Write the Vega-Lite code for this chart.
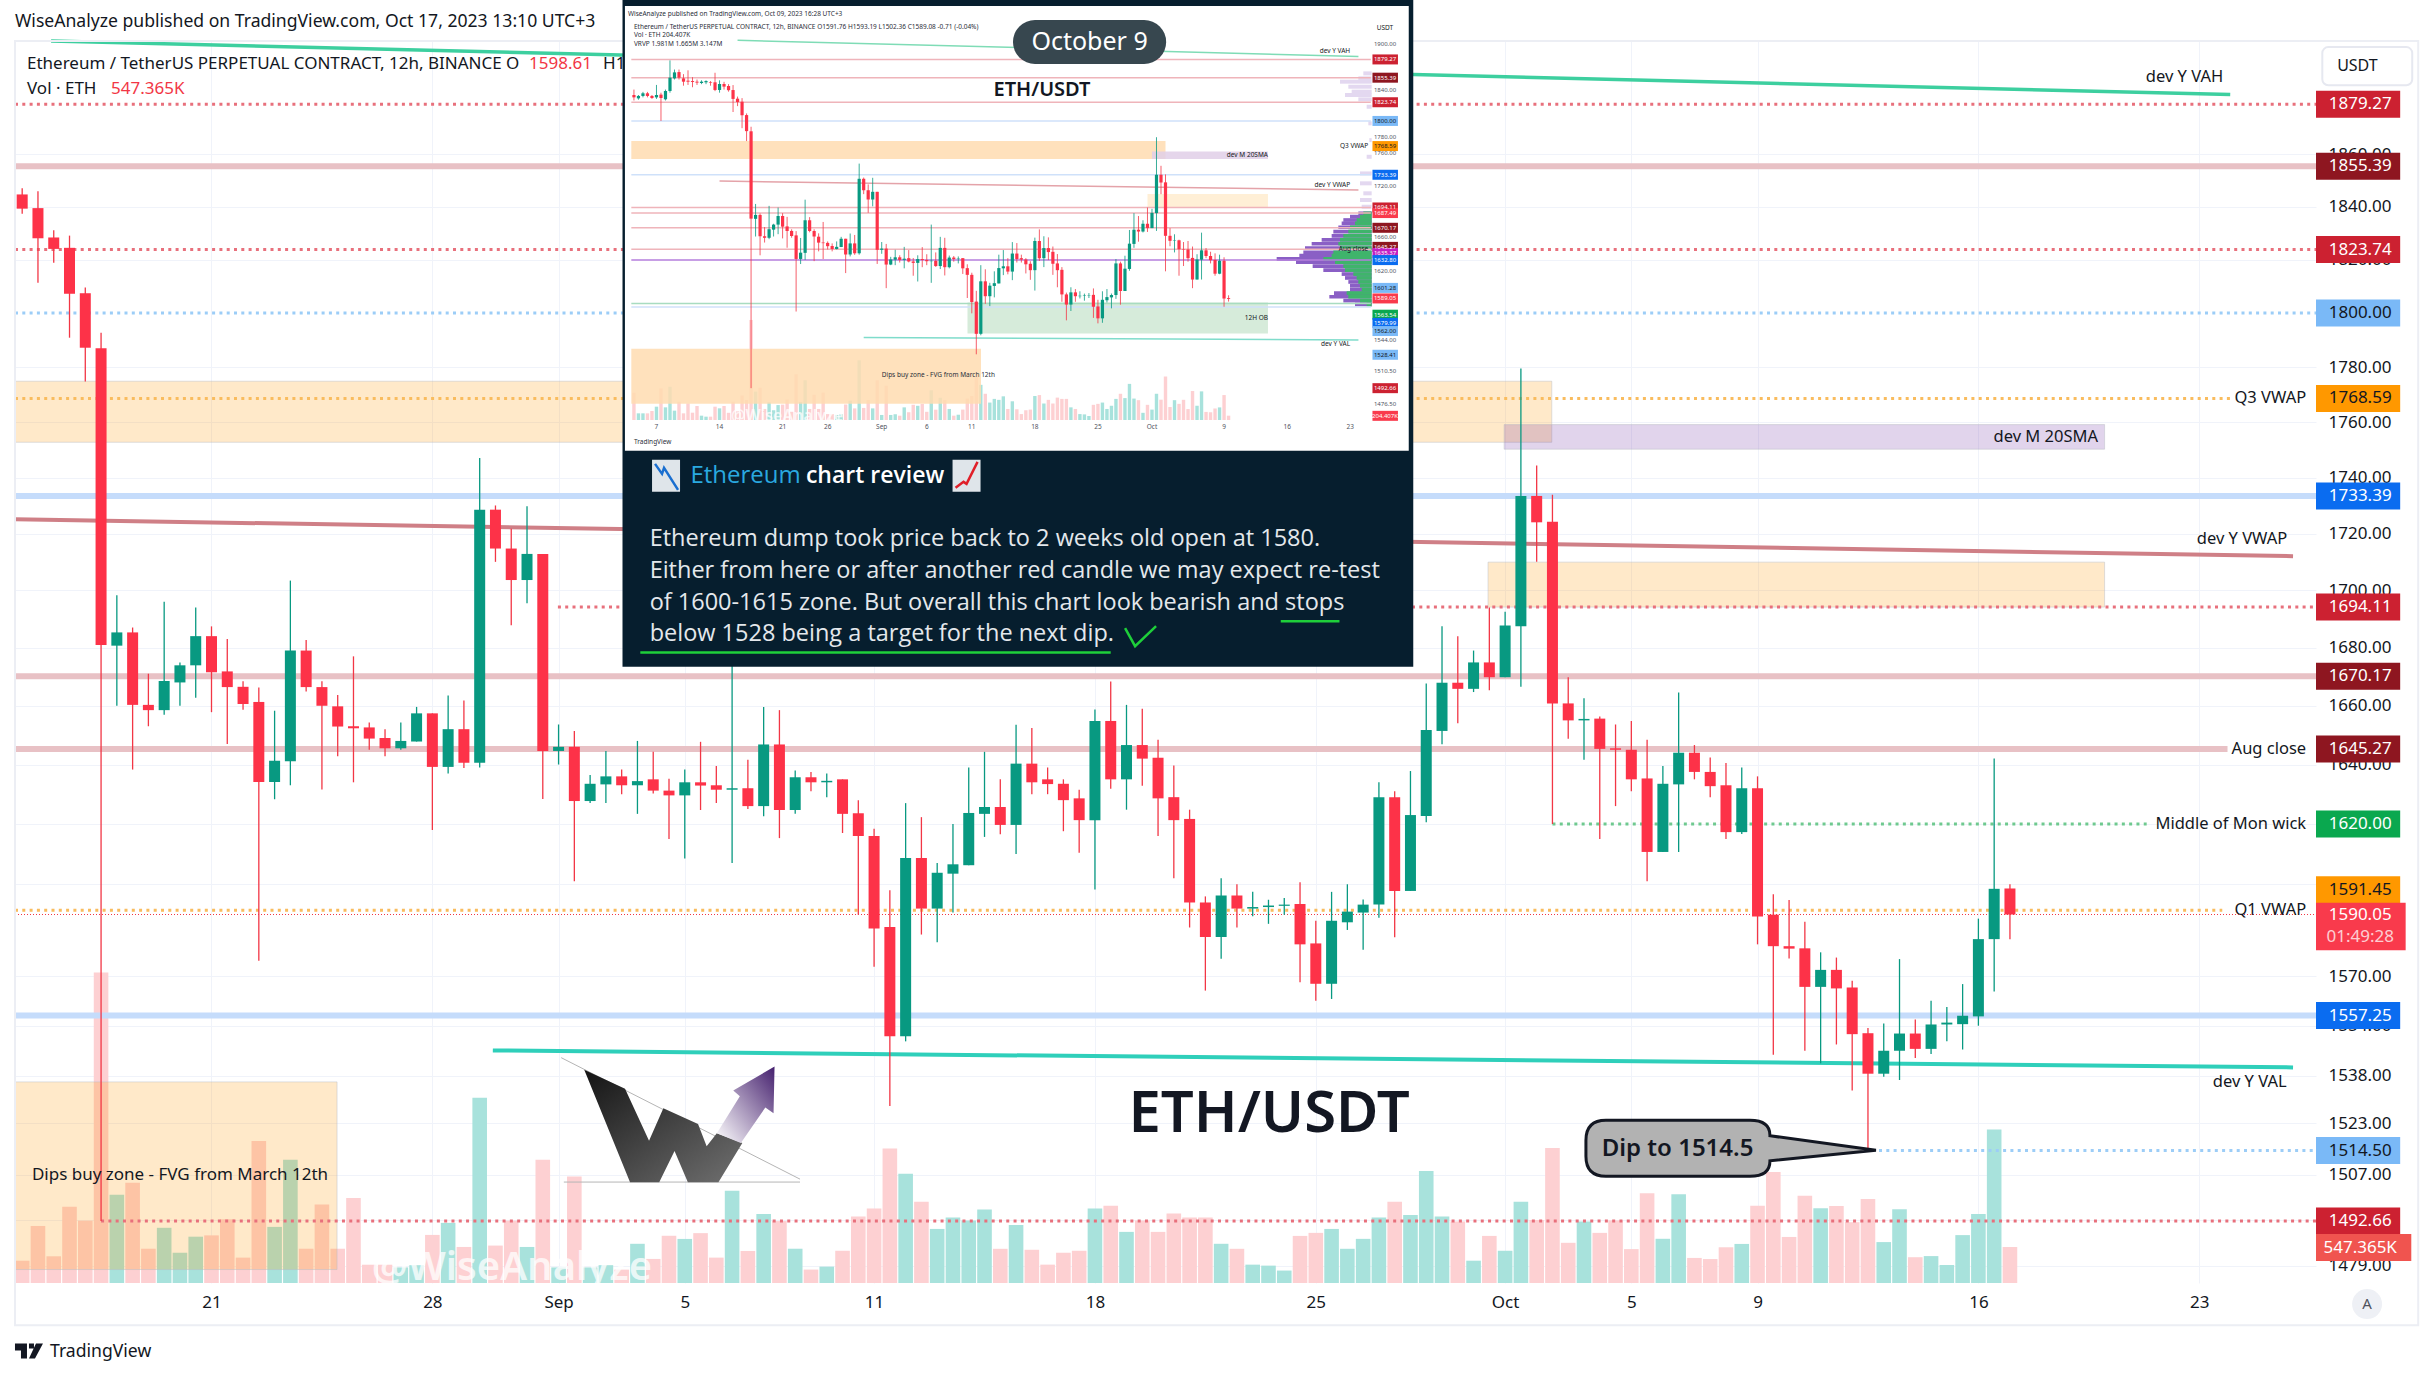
{
"$schema":"https://vega.github.io/schema/vega-lite/v6.json",
"width":2301,"height":1242,"autosize":"none","background":"#ffffff",
"padding":{"left":15,"top":41,"right":117,"bottom":95},
"config":{"view":{"stroke":null},"font":"Noto Sans","text":{"font":"Noto Sans"}},
"resolve":{"scale":{"x":"independent","y":"independent","color":"independent"}},
"datasets":{
"tags":[
{"s":"1879.27","at":1879.27,"k":"r","t":"2023-10-26T16:48Z","t2":"2023-10-29T08:50Z","tc":"2023-10-28T02:24Z"},
{"s":"1855.39","at":1855.39,"k":"dr","t":"2023-10-26T16:48Z","t2":"2023-10-29T08:50Z","tc":"2023-10-28T02:24Z"},
{"s":"1823.74","at":1823.74,"k":"r","t":"2023-10-26T16:48Z","t2":"2023-10-29T08:50Z","tc":"2023-10-28T02:24Z"},
{"s":"1800.00","at":1800,"k":"lb","t":"2023-10-26T16:48Z","t2":"2023-10-29T08:50Z","tc":"2023-10-28T02:24Z"},
{"s":"1768.59","at":1768.59,"k":"o","t":"2023-10-26T16:48Z","t2":"2023-10-29T08:50Z","tc":"2023-10-28T02:24Z"},
{"s":"1733.39","at":1733.39,"k":"b","t":"2023-10-26T16:48Z","t2":"2023-10-29T08:50Z","tc":"2023-10-28T02:24Z"},
{"s":"1694.11","at":1694.11,"k":"r","t":"2023-10-26T16:48Z","t2":"2023-10-29T08:50Z","tc":"2023-10-28T02:24Z"},
{"s":"1670.17","at":1670.17,"k":"dr","t":"2023-10-26T16:48Z","t2":"2023-10-29T08:50Z","tc":"2023-10-28T02:24Z"},
{"s":"1645.27","at":1645.27,"k":"dr","t":"2023-10-26T16:48Z","t2":"2023-10-29T08:50Z","tc":"2023-10-28T02:24Z"},
{"s":"1620.00","at":1620,"k":"g","t":"2023-10-26T16:48Z","t2":"2023-10-29T08:50Z","tc":"2023-10-28T02:24Z"},
{"s":"1591.45","at":1598.2,"k":"o","t":"2023-10-26T16:48Z","t2":"2023-10-29T08:50Z","tc":"2023-10-28T02:24Z"},
{"s":"1557.25","at":1557.25,"k":"b","t":"2023-10-26T16:48Z","t2":"2023-10-29T08:50Z","tc":"2023-10-28T02:24Z"},
{"s":"1514.50","at":1514.5,"k":"lb","t":"2023-10-26T16:48Z","t2":"2023-10-29T08:50Z","tc":"2023-10-28T02:24Z"},
{"s":"1492.66","at":1492.66,"k":"r","t":"2023-10-26T16:48Z","t2":"2023-10-29T08:50Z","tc":"2023-10-28T02:24Z"}
],
"miniTags":[
{"s":"1879.27","at":1879.27,"k":"r","t":"2023-10-25T11:20Z","t2":"2023-10-28T07:15Z","tc":"2023-10-26T20:40Z"},
{"s":"1855.39","at":1855.39,"k":"dr","t":"2023-10-25T11:20Z","t2":"2023-10-28T07:15Z","tc":"2023-10-26T20:40Z"},
{"s":"1823.74","at":1823.74,"k":"r","t":"2023-10-25T11:20Z","t2":"2023-10-28T07:15Z","tc":"2023-10-26T20:40Z"},
{"s":"1800.00","at":1800,"k":"lb","t":"2023-10-25T11:20Z","t2":"2023-10-28T07:15Z","tc":"2023-10-26T20:40Z"},
{"s":"1768.59","at":1768.59,"k":"o","t":"2023-10-25T11:20Z","t2":"2023-10-28T07:15Z","tc":"2023-10-26T20:40Z"},
{"s":"1733.39","at":1733.39,"k":"b","t":"2023-10-25T11:20Z","t2":"2023-10-28T07:15Z","tc":"2023-10-26T20:40Z"},
{"s":"1694.11","at":1694.11,"k":"r","t":"2023-10-25T11:20Z","t2":"2023-10-28T07:15Z","tc":"2023-10-26T20:40Z"},
{"s":"1687.49","at":1687.5,"k":"r2","t":"2023-10-25T11:20Z","t2":"2023-10-28T07:15Z","tc":"2023-10-26T20:40Z"},
{"s":"1670.17","at":1670.17,"k":"dr","t":"2023-10-25T11:20Z","t2":"2023-10-28T07:15Z","tc":"2023-10-26T20:40Z"},
{"s":"1645.27","at":1648,"k":"dr","t":"2023-10-25T11:20Z","t2":"2023-10-28T07:15Z","tc":"2023-10-26T20:40Z"},
{"s":"1635.37","at":1641,"k":"m","t":"2023-10-25T11:20Z","t2":"2023-10-28T07:15Z","tc":"2023-10-26T20:40Z"},
{"s":"1632.80","at":1632.8,"k":"b","t":"2023-10-25T11:20Z","t2":"2023-10-28T07:15Z","tc":"2023-10-26T20:40Z"},
{"s":"1601.28","at":1601.28,"k":"lb","t":"2023-10-25T11:20Z","t2":"2023-10-28T07:15Z","tc":"2023-10-26T20:40Z"},
{"s":"1589.05","at":1589.5,"k":"r2","t":"2023-10-25T11:20Z","t2":"2023-10-28T07:15Z","tc":"2023-10-26T20:40Z"},
{"s":"1563.54","at":1571.5,"k":"g","t":"2023-10-25T11:20Z","t2":"2023-10-28T07:15Z","tc":"2023-10-26T20:40Z"},
{"s":"1579.99","at":1562.5,"k":"b","t":"2023-10-25T11:20Z","t2":"2023-10-28T07:15Z","tc":"2023-10-26T20:40Z"},
{"s":"1562.00","at":1553.6,"k":"lb","t":"2023-10-25T11:20Z","t2":"2023-10-28T07:15Z","tc":"2023-10-26T20:40Z"},
{"s":"1528.41","at":1528,"k":"lb","t":"2023-10-25T11:20Z","t2":"2023-10-28T07:15Z","tc":"2023-10-26T20:40Z"},
{"s":"1492.66","at":1492.66,"k":"r","t":"2023-10-25T11:20Z","t2":"2023-10-28T07:15Z","tc":"2023-10-26T20:40Z"},
{"s":"204.407K","at":1464,"k":"r2","t":"2023-10-25T11:20Z","t2":"2023-10-28T07:15Z","tc":"2023-10-26T20:40Z"}
],
"candles":[
{"t":"2023-08-15T00:00Z","o":1844.6,"h":1847,"l":1837.3,"c":1839.2,"v":339},
{"t":"2023-08-15T12:00Z","o":1839.4,"h":1845.8,"l":1811.3,"c":1828,"v":867},
{"t":"2023-08-16T00:00Z","o":1828.3,"h":1831,"l":1818.8,"c":1824,"v":406},
{"t":"2023-08-16T12:00Z","o":1824.4,"h":1829,"l":1790.9,"c":1807.2,"v":1158},
{"t":"2023-08-17T00:00Z","o":1807.4,"h":1809.5,"l":1774.8,"c":1787.2,"v":948},
{"t":"2023-08-17T12:00Z","o":1787,"h":1792.7,"l":1492.66,"c":1680.9,"v":4719},
{"t":"2023-08-18T00:00Z","o":1680.7,"h":1698.3,"l":1660,"c":1685.3,"v":1340},
{"t":"2023-08-18T12:00Z","o":1685.3,"h":1687,"l":1638.3,"c":1660.3,"v":1523},
{"t":"2023-08-19T00:00Z","o":1660.3,"h":1671,"l":1653,"c":1658.5,"v":521},
{"t":"2023-08-19T12:00Z","o":1658.5,"h":1696,"l":1656.9,"c":1668.5,"v":839},
{"t":"2023-08-20T00:00Z","o":1668,"h":1674.9,"l":1660,"c":1673.9,"v":460},
{"t":"2023-08-20T12:00Z","o":1673.9,"h":1694,"l":1662.7,"c":1684,"v":704},
{"t":"2023-08-21T00:00Z","o":1684,"h":1687.4,"l":1657.8,"c":1671.5,"v":724},
{"t":"2023-08-21T12:00Z","o":1671.8,"h":1683,"l":1647,"c":1666.4,"v":968},
{"t":"2023-08-22T00:00Z","o":1666.5,"h":1668.4,"l":1658.6,"c":1660.6,"v":386},
{"t":"2023-08-22T12:00Z","o":1661.3,"h":1666.3,"l":1575,"c":1634.1,"v":2160},
{"t":"2023-08-23T00:00Z","o":1634.1,"h":1658.3,"l":1628.3,"c":1641.3,"v":853},
{"t":"2023-08-23T12:00Z","o":1641.1,"h":1703.4,"l":1633,"c":1679,"v":1875},
{"t":"2023-08-24T00:00Z","o":1679,"h":1682.7,"l":1664.9,"c":1666.4,"v":521},
{"t":"2023-08-24T12:00Z","o":1666.4,"h":1668.4,"l":1631.6,"c":1660,"v":1192},
{"t":"2023-08-25T00:00Z","o":1659.8,"h":1663.7,"l":1642.8,"c":1652.9,"v":521},
{"t":"2023-08-25T12:00Z","o":1653,"h":1677,"l":1634,"c":1652.3,"v":1293},
{"t":"2023-08-26T00:00Z","o":1652.6,"h":1654.3,"l":1645,"c":1648.8,"v":278},
{"t":"2023-08-26T12:00Z","o":1649,"h":1652,"l":1642.8,"c":1645.5,"v":278},
{"t":"2023-08-27T00:00Z","o":1645.5,"h":1654.3,"l":1645,"c":1648,"v":237},
{"t":"2023-08-27T12:00Z","o":1647.8,"h":1659.6,"l":1647.8,"c":1657.4,"v":271},
{"t":"2023-08-28T00:00Z","o":1657.4,"h":1657.4,"l":1618,"c":1639.2,"v":731},
{"t":"2023-08-28T12:00Z","o":1639.2,"h":1663.5,"l":1637,"c":1652,"v":914},
{"t":"2023-08-29T00:00Z","o":1652,"h":1661.8,"l":1638.8,"c":1640.6,"v":548},
{"t":"2023-08-29T12:00Z","o":1640.6,"h":1747,"l":1639,"c":1728.5,"v":2816},
{"t":"2023-08-30T00:00Z","o":1728.5,"h":1730,"l":1710,"c":1714.7,"v":569},
{"t":"2023-08-30T12:00Z","o":1714.7,"h":1721.7,"l":1687.8,"c":1703.6,"v":948},
{"t":"2023-08-31T00:00Z","o":1703.6,"h":1729.7,"l":1695.5,"c":1712.8,"v":548},
{"t":"2023-08-31T12:00Z","o":1712.8,"h":1712.8,"l":1628.4,"c":1644.6,"v":1875},
{"t":"2023-09-01T00:00Z","o":1644.6,"h":1653.6,"l":1640,"c":1646,"v":237},
{"t":"2023-09-01T12:00Z","o":1646,"h":1651.4,"l":1601,"c":1627.7,"v":1618},
{"t":"2023-09-02T00:00Z","o":1627.7,"h":1636.5,"l":1627,"c":1633.5,"v":237},
{"t":"2023-09-02T12:00Z","o":1633.3,"h":1644.6,"l":1627,"c":1636,"v":271},
{"t":"2023-09-03T00:00Z","o":1636,"h":1638.3,"l":1630,"c":1633,"v":203},
{"t":"2023-09-03T12:00Z","o":1633,"h":1648,"l":1623.4,"c":1634.4,"v":596},
{"t":"2023-09-04T00:00Z","o":1635,"h":1644.3,"l":1630.2,"c":1631.2,"v":366},
{"t":"2023-09-04T12:00Z","o":1631.2,"h":1635.2,"l":1615,"c":1629.6,"v":718},
{"t":"2023-09-05T00:00Z","o":1629.6,"h":1638.3,"l":1608.5,"c":1634,"v":670},
{"t":"2023-09-05T12:00Z","o":1634,"h":1647.7,"l":1624.7,"c":1632.9,"v":758},
{"t":"2023-09-06T00:00Z","o":1633,"h":1639.5,"l":1627,"c":1631.5,"v":386},
{"t":"2023-09-06T12:00Z","o":1631.5,"h":1673.9,"l":1607,"c":1632,"v":1401},
{"t":"2023-09-07T00:00Z","o":1632,"h":1641.6,"l":1625,"c":1626,"v":487},
{"t":"2023-09-07T12:00Z","o":1626,"h":1659.6,"l":1622.6,"c":1646.8,"v":1049},
{"t":"2023-09-08T00:00Z","o":1646.8,"h":1658.5,"l":1615.3,"c":1624.7,"v":941},
{"t":"2023-09-08T12:00Z","o":1624.7,"h":1638,"l":1623.4,"c":1635.7,"v":521},
{"t":"2023-09-09T00:00Z","o":1635.7,"h":1637.5,"l":1631,"c":1634,"v":204},
{"t":"2023-09-09T12:00Z","o":1634,"h":1637,"l":1629,"c":1634.5,"v":249},
{"t":"2023-09-10T00:00Z","o":1635,"h":1635,"l":1617,"c":1623.4,"v":490},
{"t":"2023-09-10T12:00Z","o":1623.6,"h":1628,"l":1590,"c":1616,"v":1010},
{"t":"2023-09-11T00:00Z","o":1616,"h":1618.4,"l":1573,"c":1585.5,"v":1131},
{"t":"2023-09-11T12:00Z","o":1586,"h":1598,"l":1528.5,"c":1550.6,"v":2043},
{"t":"2023-09-12T00:00Z","o":1550.6,"h":1627,"l":1549,"c":1608.7,"v":1659},
{"t":"2023-09-12T12:00Z","o":1608.7,"h":1622.3,"l":1583.5,"c":1592,"v":1237},
{"t":"2023-09-13T00:00Z","o":1592,"h":1607,"l":1581,"c":1603.8,"v":822},
{"t":"2023-09-13T12:00Z","o":1603.5,"h":1620,"l":1590.7,"c":1606.6,"v":995},
{"t":"2023-09-14T00:00Z","o":1606.3,"h":1639,"l":1606.3,"c":1623.7,"v":950},
{"t":"2023-09-14T12:00Z","o":1623.4,"h":1644.3,"l":1615.7,"c":1625.7,"v":1116},
{"t":"2023-09-15T00:00Z","o":1625.7,"h":1635,"l":1616.6,"c":1619.7,"v":520},
{"t":"2023-09-15T12:00Z","o":1619.7,"h":1653.5,"l":1610,"c":1640.3,"v":882},
{"t":"2023-09-16T00:00Z","o":1640.3,"h":1652.4,"l":1630,"c":1634,"v":505},
{"t":"2023-09-16T12:00Z","o":1635,"h":1639,"l":1630,"c":1633.4,"v":279},
{"t":"2023-09-17T00:00Z","o":1633.5,"h":1635,"l":1617.6,"c":1628,"v":460},
{"t":"2023-09-17T12:00Z","o":1628.6,"h":1631.5,"l":1610.4,"c":1621.3,"v":490},
{"t":"2023-09-18T00:00Z","o":1621.3,"h":1658.7,"l":1598.3,"c":1654.8,"v":1131},
{"t":"2023-09-18T12:00Z","o":1654.8,"h":1668.3,"l":1631.8,"c":1635,"v":1176},
{"t":"2023-09-19T00:00Z","o":1635,"h":1660.3,"l":1624.8,"c":1646.6,"v":777},
{"t":"2023-09-19T12:00Z","o":1646.6,"h":1659,"l":1632.8,"c":1642,"v":950},
{"t":"2023-09-20T00:00Z","o":1642.3,"h":1648.4,"l":1616,"c":1628.6,"v":777},
{"t":"2023-09-20T12:00Z","o":1629,"h":1639.7,"l":1602,"c":1621.3,"v":1056},
{"t":"2023-09-21T00:00Z","o":1621.7,"h":1624.8,"l":1585.8,"c":1594,"v":995},
{"t":"2023-09-21T12:00Z","o":1594,"h":1596,"l":1565.3,"c":1582.7,"v":995},
{"t":"2023-09-22T00:00Z","o":1582.7,"h":1602,"l":1575.6,"c":1596.3,"v":596},
{"t":"2023-09-22T12:00Z","o":1596.3,"h":1600,"l":1585.8,"c":1592,"v":520},
{"t":"2023-09-23T00:00Z","o":1592,"h":1597.5,"l":1589.5,"c":1592.5,"v":279},
{"t":"2023-09-23T12:00Z","o":1592.5,"h":1594.9,"l":1587,"c":1593,"v":264},
{"t":"2023-09-24T00:00Z","o":1592.9,"h":1595.5,"l":1590,"c":1593.3,"v":189},
{"t":"2023-09-24T12:00Z","o":1593.5,"h":1600.7,"l":1568,"c":1580.3,"v":716},
{"t":"2023-09-25T00:00Z","o":1580.6,"h":1588,"l":1562,"c":1567.5,"v":762},
{"t":"2023-09-25T12:00Z","o":1567.5,"h":1597.5,"l":1562.6,"c":1588,"v":822},
{"t":"2023-09-26T00:00Z","o":1587.5,"h":1600,"l":1585,"c":1591,"v":520},
{"t":"2023-09-26T12:00Z","o":1590.7,"h":1595,"l":1578.5,"c":1593.3,"v":671},
{"t":"2023-09-27T00:00Z","o":1593.3,"h":1634,"l":1589,"c":1629,"v":995},
{"t":"2023-09-27T12:00Z","o":1629,"h":1631,"l":1582.6,"c":1597.8,"v":1237},
{"t":"2023-09-28T00:00Z","o":1597.8,"h":1637.8,"l":1597.8,"c":1623,"v":1033},
{"t":"2023-09-28T12:00Z","o":1622.7,"h":1667.6,"l":1620.6,"c":1651.7,"v":1704},
{"t":"2023-09-29T00:00Z","o":1651.4,"h":1687.4,"l":1646.9,"c":1667.9,"v":1010},
{"t":"2023-09-29T12:00Z","o":1667.9,"h":1684,"l":1654,"c":1665.8,"v":935},
{"t":"2023-09-30T00:00Z","o":1665.8,"h":1679,"l":1664.7,"c":1674.9,"v":339},
{"t":"2023-09-30T12:00Z","o":1674.9,"h":1694,"l":1665.3,"c":1669.8,"v":716},
{"t":"2023-10-01T00:00Z","o":1669.8,"h":1692.5,"l":1669.8,"c":1687.7,"v":490},
{"t":"2023-10-01T12:00Z","o":1687.4,"h":1779.6,"l":1666.5,"c":1733.4,"v":1237},
{"t":"2023-10-02T00:00Z","o":1733.4,"h":1744.3,"l":1710,"c":1724,"v":958},
{"t":"2023-10-02T12:00Z","o":1724.2,"h":1733.8,"l":1620,"c":1660.8,"v":2051},
{"t":"2023-10-03T00:00Z","o":1660.8,"h":1669.8,"l":1648.7,"c":1655,"v":611},
{"t":"2023-10-03T12:00Z","o":1655,"h":1662.6,"l":1641.6,"c":1655.5,"v":935},
{"t":"2023-10-04T00:00Z","o":1655.6,"h":1656.3,"l":1615,"c":1645.3,"v":762},
{"t":"2023-10-04T12:00Z","o":1645.5,"h":1653.6,"l":1626,"c":1645,"v":952},
{"t":"2023-10-05T00:00Z","o":1645,"h":1654.8,"l":1631,"c":1635,"v":515},
{"t":"2023-10-05T12:00Z","o":1635.3,"h":1648.4,"l":1601,"c":1610.7,"v":1366},
{"t":"2023-10-06T00:00Z","o":1610.7,"h":1639.5,"l":1610.7,"c":1633.5,"v":672},
{"t":"2023-10-06T12:00Z","o":1633.3,"h":1664.5,"l":1610.7,"c":1644,"v":1350},
{"t":"2023-10-07T00:00Z","o":1644,"h":1646.6,"l":1635,"c":1637.5,"v":381},
{"t":"2023-10-07T12:00Z","o":1637.5,"h":1642.4,"l":1629,"c":1632.7,"v":364},
{"t":"2023-10-08T00:00Z","o":1633,"h":1640.5,"l":1615,"c":1617.3,"v":543},
{"t":"2023-10-08T12:00Z","o":1617.3,"h":1639,"l":1616.7,"c":1632,"v":594},
{"t":"2023-10-09T00:00Z","o":1632,"h":1636,"l":1580.3,"c":1589.4,"v":1176},
{"t":"2023-10-09T12:00Z","o":1590,"h":1596.7,"l":1544.7,"c":1579.7,"v":1686},
{"t":"2023-10-10T00:00Z","o":1579.7,"h":1594.8,"l":1575.7,"c":1578.9,"v":700},
{"t":"2023-10-10T12:00Z","o":1579,"h":1587.7,"l":1546,"c":1566.5,"v":1327},
{"t":"2023-10-11T00:00Z","o":1566.5,"h":1577.7,"l":1542,"c":1572,"v":1137},
{"t":"2023-10-11T12:00Z","o":1572,"h":1576,"l":1548,"c":1566,"v":1170},
{"t":"2023-10-12T00:00Z","o":1566.3,"h":1568.5,"l":1533.4,"c":1551.3,"v":924},
{"t":"2023-10-12T12:00Z","o":1551.6,"h":1553.3,"l":1514.5,"c":1538.7,"v":1277},
{"t":"2023-10-13T00:00Z","o":1538.7,"h":1554.7,"l":1537.7,"c":1546,"v":622},
{"t":"2023-10-13T12:00Z","o":1546,"h":1575.5,"l":1536.7,"c":1551.5,"v":1120},
{"t":"2023-10-14T00:00Z","o":1551.5,"h":1556,"l":1543.7,"c":1546.6,"v":392},
{"t":"2023-10-14T12:00Z","o":1546.6,"h":1562,"l":1545,"c":1554.4,"v":409},
{"t":"2023-10-15T00:00Z","o":1554.4,"h":1560,"l":1549,"c":1555,"v":274},
{"t":"2023-10-15T12:00Z","o":1554.5,"h":1567.4,"l":1546.4,"c":1557.2,"v":728},
{"t":"2023-10-16T00:00Z","o":1557,"h":1588.7,"l":1554,"c":1582,"v":1047},
{"t":"2023-10-16T12:00Z","o":1582,"h":1642,"l":1565,"c":1598.5,"v":2335},
{"t":"2023-10-17T00:00Z","o":1598.61,"h":1600,"l":1582,"c":1590.05,"v":547.365}
],
"early":[
{"t":"2023-08-04T12:00Z","o":1833,"h":1840,"l":1826,"c":1830,"v":1287},
{"t":"2023-08-05T00:00Z","o":1828.7,"h":1833,"l":1827,"c":1831.8,"v":314},
{"t":"2023-08-05T12:00Z","o":1831.8,"h":1837,"l":1830,"c":1835.2,"v":314},
{"t":"2023-08-06T00:00Z","o":1835.2,"h":1837,"l":1830,"c":1831.8,"v":314},
{"t":"2023-08-06T12:00Z","o":1831.8,"h":1833,"l":1828,"c":1829.2,"v":424},
{"t":"2023-08-07T00:00Z","o":1830,"h":1846,"l":1828,"c":1833,"v":628},
{"t":"2023-08-07T12:00Z","o":1833.5,"h":1836,"l":1800,"c":1829.2,"v":1491},
{"t":"2023-08-08T00:00Z","o":1827.5,"h":1840,"l":1826,"c":1838.2,"v":597},
{"t":"2023-08-08T12:00Z","o":1838.2,"h":1878,"l":1836,"c":1855.4,"v":1570},
{"t":"2023-08-09T00:00Z","o":1854.5,"h":1866,"l":1853,"c":1862.3,"v":440},
{"t":"2023-08-09T12:00Z","o":1862.7,"h":1866,"l":1853,"c":1855.4,"v":864},
{"t":"2023-08-10T00:00Z","o":1854.5,"h":1860,"l":1845,"c":1850.2,"v":314},
{"t":"2023-08-10T12:00Z","o":1851.5,"h":1865,"l":1846,"c":1850.2,"v":785},
{"t":"2023-08-11T00:00Z","o":1851,"h":1856,"l":1843,"c":1849.8,"v":345},
{"t":"2023-08-11T12:00Z","o":1850.2,"h":1853,"l":1846,"c":1849,"v":659},
{"t":"2023-08-12T00:00Z","o":1848.5,"h":1852,"l":1847,"c":1850.2,"v":204},
{"t":"2023-08-12T12:00Z","o":1849.4,"h":1852,"l":1847,"c":1851,"v":157},
{"t":"2023-08-13T00:00Z","o":1849.8,"h":1851,"l":1845,"c":1849,"v":157},
{"t":"2023-08-13T12:00Z","o":1849.4,"h":1861.8,"l":1838,"c":1839.5,"v":628},
{"t":"2023-08-14T00:00Z","o":1839.5,"h":1852,"l":1836,"c":1847.2,"v":550},
{"t":"2023-08-14T12:00Z","o":1847.2,"h":1850,"l":1840,"c":1843.8,"v":659},
{"t":"2023-10-09T12:00Z","o":1590,"h":1593,"l":1586,"c":1589.05,"v":204}
]
},
"layer":[
{"data":{"name":"candles"},"layer":[{
"mark":{"type":"bar","width":14.6},
"encoding":{
"x":{"field":"t","type":"temporal","axis":null,"scale":{"type":"utc","padding":0,"domain":["2023-08-14T18:32Z","2023-10-26T16:48Z"]}},
"y":{"field":"v","type":"quantitative","axis":null,"scale":{"domain":[0,18880],"nice":false}},
"color":{"condition":{"test":"datum.c>=datum.o","value":"#a8e2dc"},"value":"#fdd0d2"}
}}]},
{"encoding":{
"x":{"field":"t","type":"temporal","axis":{"title":null,"domain":false,"ticks":false,"grid":true,"gridColor":"#f0f3fa","labelFontSize":17,"labelColor":"#131722","labelPadding":11,"labelOverlap":false,"labelFlush":false,"values":["2023-08-21T00:00Z","2023-08-28T00:00Z","2023-09-01T00:00Z","2023-09-05T00:00Z","2023-09-11T00:00Z","2023-09-18T00:00Z","2023-09-25T00:00Z","2023-10-01T00:00Z","2023-10-05T00:00Z","2023-10-09T00:00Z","2023-10-16T00:00Z","2023-10-23T00:00Z"],"labelExpr":"utcdate(datum.value)==1?utcFormat(datum.value,'%b'):utcFormat(datum.value,'%-d')"},"scale":{"type":"utc","padding":0,"domain":["2023-08-14T18:32Z","2023-10-26T16:48Z"]}},
"y":{"field":"p","type":"quantitative","axis":{"title":null,"orient":"right","domain":false,"ticks":false,"grid":true,"gridColor":"#f0f3fa","labelFontSize":17,"labelColor":"#131722","labelPadding":12,"labelOverlap":false,"labelFlush":false,"format":".2f","values":[1479,1493,1507,1523,1538,1554,1570,1600,1620,1640,1660,1680,1700,1720,1740,1760,1780,1820,1840,1860]},"scale":{"type":"log","domain":[1473.7,1903.9],"nice":false}}
},
"layer":[
{"data":{"values":[
{"t":"2023-08-14T18:32Z","t2":"2023-10-02T11:30Z","p":1774.9,"p2":1752.7,"k":"zo"},
{"t":"2023-09-30T11:00Z","t2":"2023-10-20T00:00Z","p":1709.9,"p2":1694.11,"k":"zo"},
{"t":"2023-08-14T18:32Z","t2":"2023-08-24T23:30Z","p":1536.1,"p2":1477.8,"k":"zo"},
{"t":"2023-09-30T23:15Z","t2":"2023-10-20T00:00Z","p":1759.1,"p2":1750.2,"k":"zp"}
]},"mark":{"type":"rect","fillOpacity":0.21,"stroke":"#b9bdc4","strokeWidth":0.8,"strokeOpacity":0.6},
"encoding":{"x2":{"field":"t2"},"y2":{"field":"p2"},"color":{"field":"k","legend":null,"scale":{"domain":["zo","zp"],"range":["#ff9800","#7232a4"]}}}}
]},
{"resolve":{"scale":{"color":"independent"}},
"encoding":{
"x":{"field":"t","type":"temporal","axis":null,"scale":{"type":"utc","padding":0,"domain":["2023-08-14T18:32Z","2023-10-26T16:48Z"]}},
"y":{"field":"p","type":"quantitative","axis":null,"scale":{"type":"log","domain":[1473.7,1903.9],"nice":false}}
},
"layer":[
{"data":{"values":[
{"p":1855.39,"t":"2023-08-14T18:32Z","t2":"2023-10-26T16:48Z","k":"pink"},
{"p":1670.17,"t":"2023-08-14T18:32Z","t2":"2023-10-26T16:48Z","k":"pink"},
{"p":1645.27,"t":"2023-08-14T18:32Z","t2":"2023-10-23T21:30Z","k":"pink"},
{"p":1733.39,"t":"2023-08-14T18:32Z","t2":"2023-10-26T16:48Z","k":"sky"},
{"p":1557.25,"t":"2023-08-14T18:32Z","t2":"2023-10-26T16:48Z","k":"sky"}
]},"mark":{"type":"rule","strokeWidth":6},
"encoding":{"x2":{"field":"t2"},"color":{"field":"k","legend":null,"scale":{"domain":["pink","sky"],"range":["#e8c1c5","#c5dcfb"]}}}},
{"data":{"values":[
{"p":1879.27,"t":"2023-08-14T18:32Z","t2":"2023-10-26T16:48Z","k":"r"},
{"p":1823.74,"t":"2023-08-14T18:32Z","t2":"2023-10-26T16:48Z","k":"r"},
{"p":1694.11,"t":"2023-08-31T23:30Z","t2":"2023-10-26T16:48Z","k":"r"},
{"p":1492.66,"t":"2023-08-17T12:00Z","t2":"2023-10-26T16:48Z","k":"r"},
{"p":1800,"t":"2023-08-14T18:32Z","t2":"2023-10-26T16:48Z","k":"b"},
{"p":1514.5,"t":"2023-10-12T20:24Z","t2":"2023-10-26T16:48Z","k":"b"},
{"p":1768.59,"t":"2023-08-14T18:32Z","t2":"2023-10-23T23:33Z","k":"o"},
{"p":1591.45,"t":"2023-08-14T18:32Z","t2":"2023-10-23T17:30Z","k":"o"},
{"p":1620,"t":"2023-10-02T12:00Z","t2":"2023-10-21T08:00Z","k":"g"}
]},"mark":{"type":"rule","strokeWidth":3,"strokeDash":[3,4.3]},
"encoding":{"x2":{"field":"t2"},"color":{"field":"k","legend":null,"scale":{"domain":["r","b","o","g"],"range":["#e8707c","#9ccdf7","#f9bc5e","#6fc98f"]}}}},
{"data":{"values":[{"p":1590.05,"t":"2023-08-14T18:32Z","t2":"2023-10-26T16:48Z"}]},"mark":{"type":"rule","strokeWidth":1.2,"strokeDash":[1,2],"color":"#f23645"},"encoding":{"x2":{"field":"t2"}}},
{"data":{"values":[{"t":"2023-08-15T22:00Z","t2":"2023-10-23T23:33Z","p":1903.9,"p2":1883}]},"mark":{"type":"rule","strokeWidth":3.5,"color":"#3dcf9f"},"encoding":{"x2":{"field":"t2"},"y2":{"field":"p2"}}},
{"data":{"values":[{"t":"2023-08-14T18:32Z","t2":"2023-10-25T23:20Z","p":1725.1,"p2":1712}]},"mark":{"type":"rule","strokeWidth":4,"color":"#cf7f86"},"encoding":{"x2":{"field":"t2"},"y2":{"field":"p2"}}},
{"data":{"values":[{"t":"2023-08-29T22:00Z","t2":"2023-10-25T23:20Z","p":1546.1,"p2":1540.7}]},"mark":{"type":"rule","strokeWidth":4,"color":"#2fcfba"},"encoding":{"x2":{"field":"t2"},"y2":{"field":"p2"}}},
{"data":{"name":"candles"},"mark":{"type":"rule","strokeWidth":1.3},
"encoding":{"y":{"field":"l","type":"quantitative"},"y2":{"field":"h"},"color":{"condition":{"test":"datum.c>=datum.o","value":"#089981"},"value":"#f23645"}}},
{"data":{"name":"candles"},"mark":{"type":"bar","width":11},
"encoding":{"y":{"field":"o","type":"quantitative"},"y2":{"field":"c"},"color":{"condition":{"test":"datum.c>=datum.o","value":"#089981"},"value":"#fd3248"}}},
{"data":{"values":[{"t":"2023-08-30T12:30Z","p":1478.2,"s":"@WiseAnalyze"}]},"mark":{"type":"text","fontSize":40,"fontWeight":600,"color":"#ffffff","opacity":0.75,"align":"center","baseline":"middle"},"encoding":{"text":{"field":"s"}}},
{"data":{"values":[{"t":"2023-08-15T07:26Z","p":1507,"s":"Dips buy zone - FVG from March 12th"}]},"mark":{"type":"text","fontSize":17,"color":"#131722","align":"left","baseline":"middle"},"encoding":{"text":{"field":"s"}}},
{"data":{"values":[
{"t":"2023-10-23T18:13Z","p":1889.8,"s":"dev Y VAH"},
{"t":"2023-10-26T09:20Z","p":1768.59,"s":"Q3 VWAP"},
{"t":"2023-10-19T19:00Z","p":1754.6,"s":"dev M 20SMA"},
{"t":"2023-10-25T19:00Z","p":1718,"s":"dev Y VWAP"},
{"t":"2023-10-26T09:20Z","p":1645.27,"s":"Aug close"},
{"t":"2023-10-26T09:20Z","p":1620,"s":"Middle of Mon wick"},
{"t":"2023-10-26T09:20Z","p":1591.45,"s":"Q1 VWAP"},
{"t":"2023-10-25T18:30Z","p":1536,"s":"dev Y VAL"}
]},"mark":{"type":"text","fontSize":16.5,"color":"#131722","align":"right","baseline":"middle"},"encoding":{"text":{"field":"s"}}},
{"data":{"values":[{"t":"2023-09-23T12:30Z","p":1525.6,"s":"ETH/USDT"}]},"mark":{"type":"text","fontSize":58,"fontWeight":600,"color":"#131722","align":"center","baseline":"middle"},"encoding":{"text":{"field":"s"}}},
{"data":{"values":[{"t":"2023-09-01T02:00Z","t2":"2023-09-08T15:40Z","p":1543.8,"p2":1505.6},{"t":"2023-09-01T04:00Z","t2":"2023-09-08T15:40Z","p":1504.7,"p2":1504.7}]},"mark":{"type":"rule","strokeWidth":1,"color":"#b5b5b5"},"encoding":{"x2":{"field":"t2"},"y2":{"field":"p2"}}},
{"data":{"values":[{"t":"2023-09-04T20:24Z","p":1522.5}]},"mark":{"type":"point","filled":true,"opacity":1,"size":40000,"strokeWidth":0,"shape":"M-0.958 -0.554L-0.55 -0.363L-0.31 0.158L-0.167 -0.167L0.18 -0.011L0.266 0.212L0.368 0.083L0.623 0.18L0.384 0.572L0.078 0.572L-0.055 0.26L-0.208 0.572L-0.5 0.572Z","fill":{"gradient":"linear","x1":0,"y1":0,"x2":1,"y2":1,"stops":[{"offset":0,"color":"#141414"},{"offset":1,"color":"#707070"}]}}},
{"data":{"values":[{"t":"2023-09-04T20:24Z","p":1522.5}]},"mark":{"type":"point","filled":true,"opacity":1,"size":40000,"strokeWidth":0,"shape":"M0.368 0.083L0.598 -0.287L0.532 -0.345L0.945 -0.585L0.935 -0.118L0.853 -0.176L0.608 0.18Z","fill":{"gradient":"linear","x1":0,"y1":1,"x2":1,"y2":0,"stops":[{"offset":0,"color":"#ffffff"},{"offset":1,"color":"#45206e"}]}}},
{"data":{"values":[{"t":"2023-10-08T03:00Z","p":1515.2}]},"mark":{"type":"point","filled":true,"opacity":1,"size":40000,"fill":"#b2b2b2","stroke":"#131722","strokeWidth":3,"shape":"M-1.24 -0.28L0.2 -0.28Q0.4 -0.28 0.4 -0.13L0.4 -0.126L1.46 0.02L0.4 0.125L0.4 0.13Q0.4 0.28 0.2 0.28L-1.24 0.28Q-1.44 0.28 -1.44 0.08L-1.44 -0.08Q-1.44 -0.28 -1.24 -0.28Z"}},
{"data":{"values":[{"t":"2023-10-04T01:30Z","p":1515,"s":"Dip to 1514.5"}]},"mark":{"type":"text","fontSize":24,"fontWeight":600,"color":"#131722","align":"left","baseline":"middle"},"encoding":{"text":{"field":"s"}}},
{"data":{"values":[{"t":"2023-08-14T18:32Z","t2":"2023-10-29T22:33Z","p":1903.9,"p2":1460.9}]},"mark":{"type":"rect","fill":null,"stroke":"#eceef4","strokeWidth":2},"encoding":{"x2":{"field":"t2"},"y2":{"field":"p2"}}},
{"data":{"values":[{"t":"2023-10-26T21:36Z","t2":"2023-10-29T18:00Z","p":1901.5,"p2":1886.6}]},"mark":{"type":"rect","fill":"#ffffff","stroke":"#e6e8f0","strokeWidth":2,"cornerRadius":6},"encoding":{"x2":{"field":"t2"},"y2":{"field":"p2"}}},
{"data":{"values":[{"t":"2023-10-27T08:53Z","p":1894,"s":"USDT"}]},"mark":{"type":"text","fontSize":16,"color":"#131722","align":"left","baseline":"middle"},"encoding":{"text":{"field":"s"}}},
{"data":{"values":[
{"t":"2023-08-14T18:32Z","p":1911.3,"s":"WiseAnalyze published on TradingView.com, Oct 17, 2023 13:10 UTC+3"},
{"t":"2023-08-15T21:09Z","p":1452.8,"s":"TradingView"}
]},"mark":{"type":"text","fontSize":17.6,"color":"#131722","align":"left","baseline":"middle"},"encoding":{"text":{"field":"s"}}},
{"data":{"values":[
{"t":"2023-08-15T03:40Z","p":1894.8,"s":"Ethereum / TetherUS PERPETUAL CONTRACT, 12h, BINANCE  O","k":"dark"},
{"t":"2023-08-31T01:30Z","p":1894.8,"s":"1598.61","k":"red"},
{"t":"2023-09-02T09:50Z","p":1894.8,"s":"H1","k":"dark"},
{"t":"2023-08-15T03:40Z","p":1885,"s":"Vol · ETH","k":"dark"},
{"t":"2023-08-17T19:34Z","p":1885,"s":"547.365K","k":"red"}
]},"mark":{"type":"text","fontSize":17,"align":"left","baseline":"middle"},"encoding":{"text":{"field":"s"},"color":{"field":"k","legend":null,"scale":{"domain":["dark","red"],"range":["#131722","#f23645"]}}}},
{"data":{"values":[{"t":"2023-08-15T05:10Z","p":1453}]},"mark":{"type":"point","filled":true,"opacity":1,"size":40000,"strokeWidth":0,"fill":"#131722","shape":"M-0.14 -0.08L-0.02 -0.08L-0.02 0.07L-0.08 0.07L-0.08 -0.01L-0.14 -0.01ZM0 -0.08L0.05 -0.08L0.05 -0.03L0 -0.03ZM0.07 -0.08L0.14 -0.08L0.06 0.07L0 0.07Z"}},
{"data":{"values":[{"t":"2023-10-28T07:40Z","p":1467.3}]},"mark":{"type":"point","filled":true,"opacity":1,"size":900,"fill":"#eef0f5","strokeWidth":0,"shape":"circle"}},
{"data":{"values":[{"t":"2023-10-28T07:40Z","p":1467.3,"s":"A"}]},"mark":{"type":"text","fontSize":15,"color":"#50535e","align":"center","baseline":"middle"},"encoding":{"text":{"field":"s"}}},
{"data":{"name":"tags"},"mark":{"type":"rule","strokeWidth":27},"encoding":{"x2":{"field":"t2"},"y":{"field":"at","type":"quantitative"},"color":{"field":"k","legend":null,"scale":{"domain":["r","dr","lb","o","b","g"],"range":["#cc2131","#8e1620","#7ab9f7","#ff9800","#0a6cf0","#0aa84f"]}}}},
{"data":{"name":"tags"},"mark":{"type":"text","fontSize":17,"align":"center","baseline":"middle"},"encoding":{"x":{"field":"tc","type":"temporal"},"y":{"field":"at","type":"quantitative"},"text":{"field":"s"},"color":{"condition":{"test":"datum.k=='lb'||datum.k=='o'","value":"#131722"},"value":"#ffffff"}}},
{"data":{"values":[{"at":1586.1,"t":"2023-10-26T16:48Z","t2":"2023-10-29T13:00Z"}]},"mark":{"type":"rule","strokeWidth":47.5,"color":"#f93a4c"},"encoding":{"x2":{"field":"t2"},"y":{"field":"at","type":"quantitative"}}},
{"data":{"values":[{"at":1484.5,"t":"2023-10-26T16:48Z","t2":"2023-10-29T17:17Z"}]},"mark":{"type":"rule","strokeWidth":27,"color":"#f0544f"},"encoding":{"x2":{"field":"t2"},"y":{"field":"at","type":"quantitative"}}},
{"data":{"values":[{"at":1590,"s":"1590.05","k":"a","t":"2023-10-28T02:24Z"},{"at":1582.6,"s":"01:49:28","k":"b","t":"2023-10-28T02:24Z"},{"at":1484.5,"s":"547.365K","k":"a","t":"2023-10-28T02:24Z"}]},"mark":{"type":"text","fontSize":17,"align":"center","baseline":"middle","color":"#ffffff"},"encoding":{"y":{"field":"at","type":"quantitative"},"text":{"field":"s"},"opacity":{"condition":{"test":"datum.k=='b'","value":0.75},"value":1}}}
]},
{"encoding":{
"x":{"field":"t","type":"temporal","axis":null,"scale":{"type":"utc","padding":0,"domain":["2023-05-27T19:12Z","2024-02-07T04:48Z"]}},
"y":{"field":"p","type":"quantitative","axis":null,"scale":{"type":"log","domain":[797.4,1903.7],"nice":false}}
},
"layer":[
{"data":{"values":[{"t":"2023-08-03T05:30Z","t2":"2023-10-30T00:00Z","p":1960,"p2":1228}]},"mark":{"type":"rect","fill":"#061e2e"},"encoding":{"x2":{"field":"t2"},"y2":{"field":"p2"}}},
{"data":{"values":[{"t":"2023-08-03T12:00Z","t2":"2023-10-29T12:00Z","p":1951,"p2":1428.7}]},"mark":{"type":"rect","fill":"#ffffff"},"encoding":{"x2":{"field":"t2"},"y2":{"field":"p2"}}}
]},
{"encoding":{
"x":{"field":"w","type":"quantitative","axis":null,"scale":{"domain":[4070,-2833],"nice":false,"zero":false}},
"x2":{"datum":0},
"y":{"field":"p","type":"quantitative","axis":null,"scale":{"type":"log","domain":[797.4,1903.7],"nice":false}}
},
"layer":[
{"data":{"values":[{"p":1861,"w":25},{"p":1854.5,"w":40},{"p":1850.2,"w":95},{"p":1843.7,"w":70},{"p":1837.3,"w":60},{"p":1833,"w":80},{"p":1827.4,"w":40},{"p":1818,"w":15},{"p":1797,"w":10},{"p":1776,"w":7},{"p":1755.4,"w":15},{"p":1735,"w":35},{"p":1723,"w":35},{"p":1711,"w":25},{"p":1703,"w":35},{"p":1695,"w":30}]},"mark":{"type":"rule","strokeWidth":4,"color":"#e3d8f0"}},
{"data":{"values":[{"p":1687.2,"w":40},{"p":1683.3,"w":65},{"p":1679.3,"w":85},{"p":1675.4,"w":90},{"p":1670.8,"w":100},{"p":1665.8,"w":115},{"p":1660.8,"w":120},{"p":1656.2,"w":150},{"p":1651.6,"w":180},{"p":1646.7,"w":200},{"p":1641.8,"w":205},{"p":1638,"w":217},{"p":1634.2,"w":285},{"p":1630.4,"w":227},{"p":1625.9,"w":177},{"p":1621.4,"w":145},{"p":1616.9,"w":90},{"p":1612.5,"w":80},{"p":1608,"w":70},{"p":1603.6,"w":65},{"p":1599.2,"w":65},{"p":1595.5,"w":113},{"p":1591.4,"w":127},{"p":1587.1,"w":85},{"p":1582.8,"w":50}]},"mark":{"type":"rule","strokeWidth":3.7,"color":"#8a5fc5"}},
{"data":{"values":[{"p":1687.2,"w":25},{"p":1683.3,"w":35},{"p":1679.3,"w":45},{"p":1675.4,"w":50},{"p":1670.8,"w":65},{"p":1665.8,"w":70},{"p":1660.8,"w":85},{"p":1656.2,"w":95},{"p":1651.6,"w":100},{"p":1646.7,"w":95},{"p":1641.8,"w":115},{"p":1638,"w":120},{"p":1634.2,"w":145},{"p":1630.4,"w":110},{"p":1625.9,"w":85},{"p":1621.4,"w":80},{"p":1616.9,"w":55},{"p":1612.5,"w":45},{"p":1608,"w":40},{"p":1603.6,"w":35},{"p":1599.2,"w":30},{"p":1595.5,"w":75},{"p":1591.4,"w":70},{"p":1587.1,"w":35},{"p":1582.8,"w":15}]},"mark":{"type":"rule","strokeWidth":3.7,"color":"#3fb46b"}}
]},
{"data":{"name":"candles"},"layer":[{
"transform":[{"filter":"toDate(datum.t)<=1696809600000"}],
"mark":{"type":"bar","width":3.4},
"encoding":{
"x":{"field":"t","type":"temporal","axis":null,"scale":{"type":"utc","padding":0,"domain":["2023-05-27T19:12Z","2024-02-07T04:48Z"]}},
"y":{"field":"v","type":"quantitative","axis":null,"scale":{"domain":[-40708,17877],"nice":false}},
"color":{"condition":{"test":"datum.c>=datum.o","value":"#a8e2dc"},"value":"#fdd0d2"}
}},
{"data":{"name":"early"},
"mark":{"type":"bar","width":3.4},
"encoding":{
"x":{"field":"t","type":"temporal","axis":null,"scale":{"type":"utc","padding":0,"domain":["2023-05-27T19:12Z","2024-02-07T04:48Z"]}},
"y":{"field":"v","type":"quantitative","axis":null,"scale":{"domain":[-40708,17877],"nice":false}},
"color":{"condition":{"test":"datum.c>=datum.o","value":"#a8e2dc"},"value":"#fdd0d2"}
}}]},
{"resolve":{"scale":{"color":"independent"}},
"encoding":{
"x":{"field":"t","type":"temporal","axis":null,"scale":{"type":"utc","padding":0,"domain":["2023-05-27T19:12Z","2024-02-07T04:48Z"]}},
"y":{"field":"p","type":"quantitative","axis":null,"scale":{"type":"log","domain":[797.4,1903.7],"nice":false}}
},
"layer":[
{"data":{"values":[
{"t":"2023-08-04T05:00Z","t2":"2023-10-02T12:00Z","p":1774.9,"p2":1752.7,"k":"zo"},
{"t":"2023-09-30T12:00Z","t2":"2023-10-13T21:00Z","p":1710.3,"p2":1693.4,"k":"zl"},
{"t":"2023-08-04T05:00Z","t2":"2023-09-12T00:30Z","p":1534.5,"p2":1476.5,"k":"zo"},
{"t":"2023-10-01T00:00Z","t2":"2023-10-13T21:00Z","p":1762,"p2":1752.6,"k":"zp"},
{"t":"2023-09-10T12:30Z","t2":"2023-10-13T21:00Z","p":1585,"p2":1551,"k":"zg"}
]},"mark":{"type":"rect","fillOpacity":0.85},"encoding":{"x2":{"field":"t2"},"y2":{"field":"p2"},"color":{"field":"k","legend":null,"scale":{"domain":["zo","zl","zp","zg"],"range":["#ffdcb0","#ffeccf","#e0cfe8","#cfe8d3"]}}}},
{"data":{"values":[
{"p":1879.27,"k":"pk","t":"2023-08-04T05:00Z","t2":"2023-10-25T07:00Z"},{"p":1855.39,"k":"pk","t":"2023-08-04T05:00Z","t2":"2023-10-25T07:00Z"},{"p":1823.74,"k":"pk","t":"2023-08-04T05:00Z","t2":"2023-10-25T07:00Z"},{"p":1800,"k":"sk","t":"2023-08-04T05:00Z","t2":"2023-10-25T07:00Z"},{"p":1733.39,"k":"sk","t":"2023-08-04T05:00Z","t2":"2023-10-25T07:00Z"},{"p":1694.11,"k":"pk","t":"2023-08-04T05:00Z","t2":"2023-10-25T07:00Z"},{"p":1687.49,"k":"pk","t":"2023-08-04T05:00Z","t2":"2023-10-25T07:00Z"},{"p":1670.17,"k":"pk","t":"2023-08-04T05:00Z","t2":"2023-10-25T07:00Z"},{"p":1645.27,"k":"pk","t":"2023-08-04T05:00Z","t2":"2023-10-25T07:00Z"},{"p":1632.8,"k":"pu","t":"2023-08-04T05:00Z","t2":"2023-10-25T07:00Z"},{"p":1584,"k":"gr","t":"2023-08-04T05:00Z","t2":"2023-10-25T07:00Z"},{"p":1579.99,"k":"sk","t":"2023-08-04T05:00Z","t2":"2023-10-25T07:00Z"}
]},"mark":{"type":"rule","strokeWidth":1.5},"encoding":{"x2":{"field":"t2"},"color":{"field":"k","legend":null,"scale":{"domain":["pk","sk","pu","gr"],"range":["#efb4ba","#cfe1fa","#b57edc","#a8dcc0"]}}}},
{"data":{"values":[{"t":"2023-08-16T00:00Z","t2":"2023-10-23T22:00Z","p":1904.6,"p2":1883.2,"k":"a"},{"t":"2023-08-14T00:00Z","t2":"2023-10-23T22:00Z","p":1725.8,"p2":1714.9,"k":"b"},{"t":"2023-08-30T00:00Z","t2":"2023-10-23T22:00Z","p":1546.7,"p2":1543.9,"k":"c"}]},"mark":{"type":"rule","strokeWidth":1.5},"encoding":{"x2":{"field":"t2"},"y2":{"field":"p2"},"color":{"field":"k","legend":null,"scale":{"domain":["a","b","c"],"range":["#7fdcb6","#e4a3a9","#7fdccb"]}}}},
{"data":{"name":"candles"},"transform":[{"filter":"toDate(datum.t)<=1696809600000"}],"mark":{"type":"rule","strokeWidth":0.8},"encoding":{"y":{"field":"l","type":"quantitative"},"y2":{"field":"h"},"color":{"condition":{"test":"datum.c>=datum.o","value":"#089981"},"value":"#f23645"}}},
{"data":{"name":"candles"},"transform":[{"filter":"toDate(datum.t)<=1696809600000"}],"mark":{"type":"bar","width":3.2},"encoding":{"y":{"field":"o","type":"quantitative"},"y2":{"field":"c"},"color":{"condition":{"test":"datum.c>=datum.o","value":"#089981"},"value":"#fd3248"}}},
{"data":{"name":"early"},"mark":{"type":"rule","strokeWidth":0.8},"encoding":{"y":{"field":"l","type":"quantitative"},"y2":{"field":"h"},"color":{"condition":{"test":"datum.c>=datum.o","value":"#089981"},"value":"#f23645"}}},
{"data":{"name":"early"},"mark":{"type":"bar","width":3.2},"encoding":{"y":{"field":"o","type":"quantitative"},"y2":{"field":"c"},"color":{"condition":{"test":"datum.c>=datum.o","value":"#089981"},"value":"#fd3248"}}},
{"data":{"name":"miniTags"},"mark":{"type":"rule","strokeWidth":10},"encoding":{"x2":{"field":"t2"},"y":{"field":"at","type":"quantitative"},"color":{"field":"k","legend":null,"scale":{"domain":["r","r2","dr","lb","o","b","g","m"],"range":["#cc2131","#f93a4c","#8e1620","#7ab9f7","#ff9800","#0a6cf0","#0aa84f","#c31fc3"]}}}},
{"data":{"name":"miniTags"},"mark":{"type":"text","fontSize":6,"align":"center","baseline":"middle"},"encoding":{"x":{"field":"tc","type":"temporal"},"y":{"field":"at","type":"quantitative"},"text":{"field":"s"},"color":{"condition":{"test":"datum.k=='lb'||datum.k=='o'","value":"#131722"},"value":"#ffffff"}}},
{"data":{"values":[{"p":1900,"s":"1900.00","t":"2023-10-26T20:40Z"},{"p":1840,"s":"1840.00","t":"2023-10-26T20:40Z"},{"p":1780,"s":"1780.00","t":"2023-10-26T20:40Z"},{"p":1760,"s":"1760.00","t":"2023-10-26T20:40Z"},{"p":1720,"s":"1720.00","t":"2023-10-26T20:40Z"},{"p":1660,"s":"1660.00","t":"2023-10-26T20:40Z"},{"p":1620,"s":"1620.00","t":"2023-10-26T20:40Z"},{"p":1544,"s":"1544.00","t":"2023-10-26T20:40Z"},{"p":1510.5,"s":"1510.50","t":"2023-10-26T20:40Z"},{"p":1476.5,"s":"1476.50","t":"2023-10-26T20:40Z"}]},"mark":{"type":"text","fontSize":6,"align":"center","baseline":"middle","color":"#50535e"},"encoding":{"text":{"field":"s"}}},
{"data":{"values":[{"t":"2023-08-07T00:00Z","p":1452.3,"s":"7"},{"t":"2023-08-14T00:00Z","p":1452.3,"s":"14"},{"t":"2023-08-21T00:00Z","p":1452.3,"s":"21"},{"t":"2023-08-26T00:00Z","p":1452.3,"s":"26"},{"t":"2023-09-01T00:00Z","p":1452.3,"s":"Sep"},{"t":"2023-09-06T00:00Z","p":1452.3,"s":"6"},{"t":"2023-09-11T00:00Z","p":1452.3,"s":"11"},{"t":"2023-09-18T00:00Z","p":1452.3,"s":"18"},{"t":"2023-09-25T00:00Z","p":1452.3,"s":"25"},{"t":"2023-10-01T00:00Z","p":1452.3,"s":"Oct"},{"t":"2023-10-09T00:00Z","p":1452.3,"s":"9"},{"t":"2023-10-16T00:00Z","p":1452.3,"s":"16"},{"t":"2023-10-23T00:00Z","p":1452.3,"s":"23"}]},"mark":{"type":"text","fontSize":6.5,"align":"center","baseline":"middle","color":"#50535e"},"encoding":{"text":{"field":"s"}}},
{"data":{"values":[
{"t":"2023-10-23T00:00Z","p":1890.8,"s":"dev Y VAH"},{"t":"2023-10-13T21:00Z","p":1757,"s":"dev M 20SMA"},{"t":"2023-10-25T00:00Z","p":1768.59,"s":"Q3 VWAP"},{"t":"2023-10-23T00:00Z","p":1720.7,"s":"dev Y VWAP"},{"t":"2023-10-25T00:00Z","p":1645,"s":"Aug close"},{"t":"2023-10-13T21:00Z","p":1568,"s":"12H OB"},{"t":"2023-10-23T00:00Z","p":1540,"s":"dev Y VAL"}
]},"mark":{"type":"text","fontSize":6.5,"align":"right","baseline":"middle","color":"#131722"},"encoding":{"text":{"field":"s"}}},
{"data":{"values":[
{"t":"2023-08-03T20:00Z","p":1940.6,"s":"WiseAnalyze published on TradingView.com, Oct 09, 2023 16:28 UTC+3"},
{"t":"2023-08-04T12:00Z","p":1923,"s":"Ethereum / TetherUS PERPETUAL CONTRACT, 12h, BINANCE  O1591.76 H1593.19 L1502.36 C1589.08 -0.71 (-0.04%)"},
{"t":"2023-08-04T12:00Z","p":1911.4,"s":"Vol · ETH 204.407K"},
{"t":"2023-08-04T12:00Z","p":1899.3,"s":"VRVP 1.981M 1.665M 3.147M"},
{"t":"2023-09-01T00:00Z","p":1507,"s":"Dips buy zone - FVG from March 12th"},
{"t":"2023-08-04T12:00Z","p":1437,"s":"TradingView"}
]},"mark":{"type":"text","fontSize":6.5,"align":"left","baseline":"middle","color":"#2a2e39"},"encoding":{"text":{"field":"s"}}},
{"data":{"values":[{"t":"2023-08-21T12:00Z","p":1464,"s":"@WiseAnalyze"}]},"mark":{"type":"text","fontSize":16,"fontWeight":600,"color":"#ffffff","opacity":0.75,"align":"center","baseline":"middle"},"encoding":{"text":{"field":"s"}}},
{"data":{"values":[{"t":"2023-09-18T19:00Z","p":1839,"s":"ETH/USDT"}]},"mark":{"type":"text","fontSize":20,"fontWeight":600,"color":"#131722","align":"center","baseline":"middle"},"encoding":{"text":{"field":"s"}}},
{"data":{"values":[{"t":"2023-10-26T20:40Z","p":1921,"s":"USDT"}]},"mark":{"type":"text","fontSize":6.5,"color":"#131722","align":"center","baseline":"middle"},"encoding":{"text":{"field":"s"}}}
]},
{"encoding":{
"x":{"field":"t","type":"temporal","axis":null,"scale":{"type":"utc","padding":0,"domain":["2023-08-14T18:32Z","2023-10-26T16:48Z"]}},
"y":{"field":"p","type":"quantitative","axis":null,"scale":{"type":"log","domain":[1473.7,1903.9],"nice":false}}
},
"layer":[
{"data":{"values":[{"t":"2023-09-16T02:24Z","t2":"2023-09-19T13:26Z","p":1903.5}]},"mark":{"type":"rule","strokeWidth":44,"strokeCap":"round","color":"#37474f"},"encoding":{"x2":{"field":"t2"}}},
{"data":{"values":[{"t":"2023-09-17T19:55Z","p":1903.5,"s":"October 9"}]},"mark":{"type":"text","fontSize":25,"color":"#ffffff","align":"center","baseline":"middle"},"encoding":{"text":{"field":"s"}}},
{"data":{"values":[{"t":"2023-09-05T04:19Z","p":1740.6,"s":"Ethereum"}]},"mark":{"type":"text","fontSize":24,"font":"Open Sans","color":"#2aa9e0","align":"left","baseline":"middle"},"encoding":{"text":{"field":"s"}}},
{"data":{"values":[{"t":"2023-09-08T20:10Z","p":1740.6,"s":"chart review"}]},"mark":{"type":"text","fontSize":23,"font":"Open Sans","fontWeight":600,"color":"#ffffff","align":"left","baseline":"middle"},"encoding":{"text":{"field":"s"}}},
{"data":{"values":[
{"t":"2023-09-03T21:16Z","p":1718,"s":"Ethereum dump took price back to 2 weeks old open at 1580."},
{"t":"2023-09-03T21:16Z","p":1706.8,"s":"Either from here or after another red candle we may expect re-test"},
{"t":"2023-09-03T21:16Z","p":1695.7,"s":"of 1600-1615 zone. But overall this chart look bearish and stops"},
{"t":"2023-09-03T21:16Z","p":1684.7,"s":"below 1528 being a target for the next dip."}
]},"mark":{"type":"text","fontSize":23.5,"font":"Open Sans","color":"#e4e8ec","align":"left","baseline":"middle"},"encoding":{"text":{"field":"s"}}},
{"data":{"values":[{"t":"2023-09-23T21:20Z","t2":"2023-09-25T18:00Z","p":1689.2},{"t":"2023-09-03T14:10Z","t2":"2023-09-18T12:00Z","p":1678.3}]},"mark":{"type":"rule","strokeWidth":2.5,"color":"#1ecf3a"},"encoding":{"x2":{"field":"t2"}}},
{"data":{"values":[{"t":"2023-09-19T10:20Z","p":1684}]},"mark":{"type":"point","filled":false,"opacity":1,"size":40000,"strokeWidth":2.5,"stroke":"#1ecf3a","shape":"M-0.15 -0.08L-0.05 0.1L0.16 -0.1"}},
{"data":{"values":[{"t":"2023-09-04T09:45Z","p":1740.6},{"t":"2023-09-13T22:20Z","p":1740.6}]},"mark":{"type":"point","filled":true,"opacity":1,"size":40000,"strokeWidth":0,"fill":"#dfe5ea","shape":"M-0.14 -0.16L0.14 -0.16L0.14 0.16L-0.14 0.16Z"}},
{"data":{"values":[{"t":"2023-09-04T09:45Z","p":1740.6}]},"mark":{"type":"point","filled":false,"opacity":1,"size":40000,"strokeWidth":2.5,"stroke":"#1a6fd0","shape":"M-0.11 -0.12L-0.04 -0.02L-0.02 -0.08L0.12 0.14"}},
{"data":{"values":[{"t":"2023-09-13T22:20Z","p":1740.6}]},"mark":{"type":"point","filled":false,"opacity":1,"size":40000,"strokeWidth":2.5,"stroke":"#e0202a","shape":"M-0.11 0.12L-0.03 0.06L0 0.08L0.11 -0.14"}}
]}
]}
